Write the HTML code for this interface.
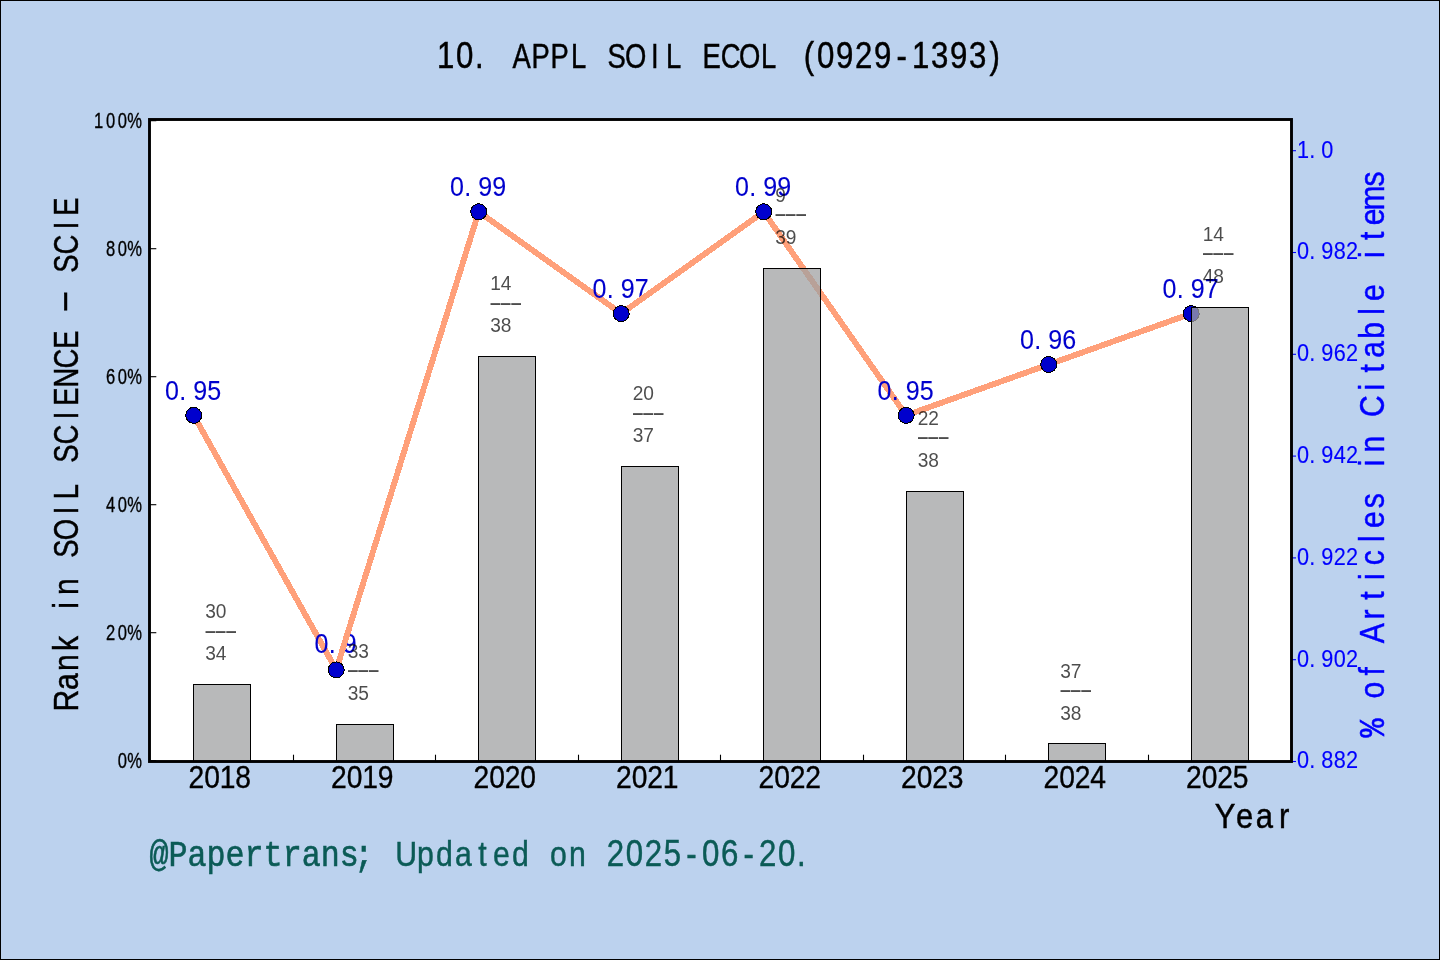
<!DOCTYPE html>
<html lang="en">
<head>
<meta charset="utf-8">
<title>10. APPL SOIL ECOL (0929-1393)</title>
<style>
html,body{margin:0;padding:0;background:#BCD2EE;}
body{width:1440px;height:960px;overflow:hidden;font-family:'Liberation Sans', sans-serif;}
svg{display:block;}
</style>
</head>
<body>
<svg width="1440" height="960" viewBox="0 0 1440 960">
<rect x="0" y="0" width="1440" height="960" fill="#BCD2EE"/>
<rect x="0.5" y="0.5" width="1439" height="959" fill="none" stroke="#000" stroke-width="1"/>
<rect x="149.5" y="119.5" width="1142.0" height="642.0" fill="#fff"/>
<text transform="translate(193.10,400.08) translate(-28.30,0.00) scale(0.8850,1)" x="7.99 20.31 39.97 55.96" text-anchor="middle" font-family="'Liberation Sans', sans-serif" font-size="28.30" fill="#0000CD" stroke="#0000CD" stroke-width="0.11">0.95</text>
<line x1="193.70" y1="415.38" x2="336.20" y2="669.88" stroke="#FFA07A" stroke-width="5.9" shape-rendering="crispEdges"/>
<text transform="translate(335.60,653.38) translate(-21.23,0.00) scale(0.8850,1)" x="7.99 20.31 39.97" text-anchor="middle" font-family="'Liberation Sans', sans-serif" font-size="28.30" fill="#0000CD" stroke="#0000CD" stroke-width="0.11">0.9</text>
<line x1="336.20" y1="669.88" x2="478.70" y2="211.78" stroke="#FFA07A" stroke-width="5.9" shape-rendering="crispEdges"/>
<text transform="translate(478.10,196.48) translate(-28.30,0.00) scale(0.8850,1)" x="7.99 20.31 39.97 55.96" text-anchor="middle" font-family="'Liberation Sans', sans-serif" font-size="28.30" fill="#0000CD" stroke="#0000CD" stroke-width="0.11">0.99</text>
<line x1="478.70" y1="211.78" x2="621.20" y2="313.58" stroke="#FFA07A" stroke-width="5.9" shape-rendering="crispEdges"/>
<text transform="translate(620.60,298.28) translate(-28.30,0.00) scale(0.8850,1)" x="7.99 20.31 39.97 55.96" text-anchor="middle" font-family="'Liberation Sans', sans-serif" font-size="28.30" fill="#0000CD" stroke="#0000CD" stroke-width="0.11">0.97</text>
<line x1="621.20" y1="313.58" x2="763.70" y2="211.78" stroke="#FFA07A" stroke-width="5.9" shape-rendering="crispEdges"/>
<text transform="translate(763.10,196.48) translate(-28.30,0.00) scale(0.8850,1)" x="7.99 20.31 39.97 55.96" text-anchor="middle" font-family="'Liberation Sans', sans-serif" font-size="28.30" fill="#0000CD" stroke="#0000CD" stroke-width="0.11">0.99</text>
<line x1="763.70" y1="211.78" x2="906.20" y2="415.38" stroke="#FFA07A" stroke-width="5.9" shape-rendering="crispEdges"/>
<text transform="translate(905.60,400.08) translate(-28.30,0.00) scale(0.8850,1)" x="7.99 20.31 39.97 55.96" text-anchor="middle" font-family="'Liberation Sans', sans-serif" font-size="28.30" fill="#0000CD" stroke="#0000CD" stroke-width="0.11">0.95</text>
<line x1="906.20" y1="415.38" x2="1048.70" y2="364.48" stroke="#FFA07A" stroke-width="5.9" shape-rendering="crispEdges"/>
<text transform="translate(1048.10,349.18) translate(-28.30,0.00) scale(0.8850,1)" x="7.99 20.31 39.97 55.96" text-anchor="middle" font-family="'Liberation Sans', sans-serif" font-size="28.30" fill="#0000CD" stroke="#0000CD" stroke-width="0.11">0.96</text>
<line x1="1048.70" y1="364.48" x2="1191.20" y2="313.58" stroke="#FFA07A" stroke-width="5.9" shape-rendering="crispEdges"/>
<text transform="translate(1190.60,298.28) translate(-28.30,0.00) scale(0.8850,1)" x="7.99 20.31 39.97 55.96" text-anchor="middle" font-family="'Liberation Sans', sans-serif" font-size="28.30" fill="#0000CD" stroke="#0000CD" stroke-width="0.11">0.97</text>
<circle cx="193.70" cy="415.38" r="8.0" fill="#0000CD" stroke="#000" stroke-width="1" shape-rendering="crispEdges"/>
<circle cx="336.20" cy="669.88" r="8.0" fill="#0000CD" stroke="#000" stroke-width="1" shape-rendering="crispEdges"/>
<circle cx="478.70" cy="211.78" r="8.0" fill="#0000CD" stroke="#000" stroke-width="1" shape-rendering="crispEdges"/>
<circle cx="621.20" cy="313.58" r="8.0" fill="#0000CD" stroke="#000" stroke-width="1" shape-rendering="crispEdges"/>
<circle cx="763.70" cy="211.78" r="8.0" fill="#0000CD" stroke="#000" stroke-width="1" shape-rendering="crispEdges"/>
<circle cx="906.20" cy="415.38" r="8.0" fill="#0000CD" stroke="#000" stroke-width="1" shape-rendering="crispEdges"/>
<circle cx="1048.70" cy="364.48" r="8.0" fill="#0000CD" stroke="#000" stroke-width="1" shape-rendering="crispEdges"/>
<circle cx="1191.20" cy="313.58" r="8.0" fill="#0000CD" stroke="#000" stroke-width="1" shape-rendering="crispEdges"/>
<rect x="193.50" y="684.50" width="57" height="77.00" fill="#A0A1A3" fill-opacity="0.75" stroke="#000" stroke-width="1"/>
<rect x="336.50" y="724.50" width="57" height="37.00" fill="#A0A1A3" fill-opacity="0.75" stroke="#000" stroke-width="1"/>
<rect x="478.50" y="356.50" width="57" height="405.00" fill="#A0A1A3" fill-opacity="0.75" stroke="#000" stroke-width="1"/>
<rect x="621.50" y="466.50" width="57" height="295.00" fill="#A0A1A3" fill-opacity="0.75" stroke="#000" stroke-width="1"/>
<rect x="763.50" y="268.50" width="57" height="493.00" fill="#A0A1A3" fill-opacity="0.75" stroke="#000" stroke-width="1"/>
<rect x="906.50" y="491.50" width="57" height="270.00" fill="#A0A1A3" fill-opacity="0.75" stroke="#000" stroke-width="1"/>
<rect x="1048.50" y="743.50" width="57" height="18.00" fill="#A0A1A3" fill-opacity="0.75" stroke="#000" stroke-width="1"/>
<rect x="1191.50" y="307.50" width="57" height="454.00" fill="#A0A1A3" fill-opacity="0.75" stroke="#000" stroke-width="1"/>
<g fill="#000" fill-opacity="0.7">
<text transform="translate(205.40,618.30) translate(0.00,0.00) scale(0.9300,1)" x="5.59 16.77" text-anchor="middle" font-family="'Liberation Sans', sans-serif" font-size="20.59" fill="inherit">30</text>
<text transform="translate(205.10,637.65) scale(2.02,1.25)" x="2.57 7.72 12.87" text-anchor="middle" font-family="'Liberation Sans', sans-serif" font-size="19.76">---</text>
<text transform="translate(205.40,660.40) translate(0.00,0.00) scale(0.9300,1)" x="5.59 16.77" text-anchor="middle" font-family="'Liberation Sans', sans-serif" font-size="20.59" fill="inherit">34</text>
</g>
<g fill="#000" fill-opacity="0.7">
<text transform="translate(347.90,657.83) translate(0.00,0.00) scale(0.9300,1)" x="5.59 16.77" text-anchor="middle" font-family="'Liberation Sans', sans-serif" font-size="20.59" fill="inherit">33</text>
<text transform="translate(347.60,677.18) scale(2.02,1.25)" x="2.57 7.72 12.87" text-anchor="middle" font-family="'Liberation Sans', sans-serif" font-size="19.76">---</text>
<text transform="translate(347.90,699.93) translate(0.00,0.00) scale(0.9300,1)" x="5.59 16.77" text-anchor="middle" font-family="'Liberation Sans', sans-serif" font-size="20.59" fill="inherit">35</text>
</g>
<g fill="#000" fill-opacity="0.7">
<text transform="translate(490.40,290.19) translate(0.00,0.00) scale(0.9300,1)" x="5.59 16.77" text-anchor="middle" font-family="'Liberation Sans', sans-serif" font-size="20.59" fill="inherit">14</text>
<text transform="translate(490.10,309.54) scale(2.02,1.25)" x="2.57 7.72 12.87" text-anchor="middle" font-family="'Liberation Sans', sans-serif" font-size="19.76">---</text>
<text transform="translate(490.40,332.29) translate(0.00,0.00) scale(0.9300,1)" x="5.59 16.77" text-anchor="middle" font-family="'Liberation Sans', sans-serif" font-size="20.59" fill="inherit">38</text>
</g>
<g fill="#000" fill-opacity="0.7">
<text transform="translate(632.90,400.35) translate(0.00,0.00) scale(0.9300,1)" x="5.59 16.77" text-anchor="middle" font-family="'Liberation Sans', sans-serif" font-size="20.59" fill="inherit">20</text>
<text transform="translate(632.60,419.70) scale(2.02,1.25)" x="2.57 7.72 12.87" text-anchor="middle" font-family="'Liberation Sans', sans-serif" font-size="19.76">---</text>
<text transform="translate(632.90,442.45) translate(0.00,0.00) scale(0.9300,1)" x="5.59 16.77" text-anchor="middle" font-family="'Liberation Sans', sans-serif" font-size="20.59" fill="inherit">37</text>
</g>
<g fill="#000" fill-opacity="0.7">
<text transform="translate(775.40,202.09) translate(0.00,0.00) scale(0.9300,1)" x="5.59" text-anchor="middle" font-family="'Liberation Sans', sans-serif" font-size="20.59" fill="inherit">9</text>
<text transform="translate(775.10,221.44) scale(2.02,1.25)" x="2.57 7.72 12.87" text-anchor="middle" font-family="'Liberation Sans', sans-serif" font-size="19.76">---</text>
<text transform="translate(775.40,244.19) translate(0.00,0.00) scale(0.9300,1)" x="5.59 16.77" text-anchor="middle" font-family="'Liberation Sans', sans-serif" font-size="20.59" fill="inherit">39</text>
</g>
<g fill="#000" fill-opacity="0.7">
<text transform="translate(917.90,424.93) translate(0.00,0.00) scale(0.9300,1)" x="5.59 16.77" text-anchor="middle" font-family="'Liberation Sans', sans-serif" font-size="20.59" fill="inherit">22</text>
<text transform="translate(917.60,444.28) scale(2.02,1.25)" x="2.57 7.72 12.87" text-anchor="middle" font-family="'Liberation Sans', sans-serif" font-size="19.76">---</text>
<text transform="translate(917.90,467.03) translate(0.00,0.00) scale(0.9300,1)" x="5.59 16.77" text-anchor="middle" font-family="'Liberation Sans', sans-serif" font-size="20.59" fill="inherit">38</text>
</g>
<g fill="#000" fill-opacity="0.7">
<text transform="translate(1060.40,677.56) translate(0.00,0.00) scale(0.9300,1)" x="5.59 16.77" text-anchor="middle" font-family="'Liberation Sans', sans-serif" font-size="20.59" fill="inherit">37</text>
<text transform="translate(1060.10,696.91) scale(2.02,1.25)" x="2.57 7.72 12.87" text-anchor="middle" font-family="'Liberation Sans', sans-serif" font-size="19.76">---</text>
<text transform="translate(1060.40,719.66) translate(0.00,0.00) scale(0.9300,1)" x="5.59 16.77" text-anchor="middle" font-family="'Liberation Sans', sans-serif" font-size="20.59" fill="inherit">38</text>
</g>
<g fill="#000" fill-opacity="0.7">
<text transform="translate(1202.90,241.07) translate(0.00,0.00) scale(0.9300,1)" x="5.59 16.77" text-anchor="middle" font-family="'Liberation Sans', sans-serif" font-size="20.59" fill="inherit">14</text>
<text transform="translate(1202.60,260.42) scale(2.02,1.25)" x="2.57 7.72 12.87" text-anchor="middle" font-family="'Liberation Sans', sans-serif" font-size="19.76">---</text>
<text transform="translate(1202.90,283.17) translate(0.00,0.00) scale(0.9300,1)" x="5.59 16.77" text-anchor="middle" font-family="'Liberation Sans', sans-serif" font-size="20.59" fill="inherit">48</text>
</g>
<line x1="293.50" y1="761.5" x2="293.50" y2="754.7" stroke="#000" stroke-width="1.1"/>
<line x1="435.50" y1="761.5" x2="435.50" y2="754.7" stroke="#000" stroke-width="1.1"/>
<line x1="578.50" y1="761.5" x2="578.50" y2="754.7" stroke="#000" stroke-width="1.1"/>
<line x1="720.50" y1="761.5" x2="720.50" y2="754.7" stroke="#000" stroke-width="1.1"/>
<line x1="863.50" y1="761.5" x2="863.50" y2="754.7" stroke="#000" stroke-width="1.1"/>
<line x1="1005.50" y1="761.5" x2="1005.50" y2="754.7" stroke="#000" stroke-width="1.1"/>
<line x1="1148.50" y1="761.5" x2="1148.50" y2="754.7" stroke="#000" stroke-width="1.1"/>
<line x1="149.5" y1="760.70" x2="156.3" y2="760.70" stroke="#000" stroke-width="1.1"/>
<line x1="149.5" y1="632.70" x2="156.3" y2="632.70" stroke="#000" stroke-width="1.1"/>
<line x1="149.5" y1="504.70" x2="156.3" y2="504.70" stroke="#000" stroke-width="1.1"/>
<line x1="149.5" y1="376.70" x2="156.3" y2="376.70" stroke="#000" stroke-width="1.1"/>
<line x1="149.5" y1="248.70" x2="156.3" y2="248.70" stroke="#000" stroke-width="1.1"/>
<line x1="149.5" y1="120.70" x2="156.3" y2="120.70" stroke="#000" stroke-width="1.1"/>
<line x1="1291.5" y1="761.50" x2="1296.0" y2="761.50" stroke="#0000FF" stroke-width="1.1"/>
<line x1="1291.5" y1="659.70" x2="1296.0" y2="659.70" stroke="#0000FF" stroke-width="1.1"/>
<line x1="1291.5" y1="557.90" x2="1296.0" y2="557.90" stroke="#0000FF" stroke-width="1.1"/>
<line x1="1291.5" y1="456.10" x2="1296.0" y2="456.10" stroke="#0000FF" stroke-width="1.1"/>
<line x1="1291.5" y1="354.30" x2="1296.0" y2="354.30" stroke="#0000FF" stroke-width="1.1"/>
<line x1="1291.5" y1="252.50" x2="1296.0" y2="252.50" stroke="#0000FF" stroke-width="1.1"/>
<line x1="1291.5" y1="150.70" x2="1296.0" y2="150.70" stroke="#0000FF" stroke-width="1.1"/>
<rect x="149.5" y="119.5" width="1142.0" height="642.0" fill="none" stroke="#000" stroke-width="2.9"/>
<text transform="translate(0,768.00) scale(0.74,1)" x="165.27 181.76" text-anchor="middle" font-family="'Liberation Sans', sans-serif" font-size="22.4" stroke="#000" stroke-width="0.35">0%</text>
<text transform="translate(0,640.00) scale(0.74,1)" x="149.32 165.27 181.76" text-anchor="middle" font-family="'Liberation Sans', sans-serif" font-size="22.4" stroke="#000" stroke-width="0.35">20%</text>
<text transform="translate(0,512.00) scale(0.74,1)" x="149.32 165.27 181.76" text-anchor="middle" font-family="'Liberation Sans', sans-serif" font-size="22.4" stroke="#000" stroke-width="0.35">40%</text>
<text transform="translate(0,384.00) scale(0.74,1)" x="149.32 165.27 181.76" text-anchor="middle" font-family="'Liberation Sans', sans-serif" font-size="22.4" stroke="#000" stroke-width="0.35">60%</text>
<text transform="translate(0,256.00) scale(0.74,1)" x="149.32 165.27 181.76" text-anchor="middle" font-family="'Liberation Sans', sans-serif" font-size="22.4" stroke="#000" stroke-width="0.35">80%</text>
<text transform="translate(0,128.00) scale(0.74,1)" x="133.38 149.32 165.27 181.76" text-anchor="middle" font-family="'Liberation Sans', sans-serif" font-size="22.4" stroke="#000" stroke-width="0.35">100%</text>
<text transform="translate(1296.80,768.40) translate(0.00,0.00) scale(0.8850,1)" x="6.92 17.58 34.60 48.45 62.29" text-anchor="middle" font-family="'Liberation Sans', sans-serif" font-size="24.50" fill="#0000FF" stroke="#0000FF" stroke-width="0.15">0.882</text>
<text transform="translate(1296.80,666.60) translate(0.00,0.00) scale(0.8850,1)" x="6.92 17.58 34.60 48.45 62.29" text-anchor="middle" font-family="'Liberation Sans', sans-serif" font-size="24.50" fill="#0000FF" stroke="#0000FF" stroke-width="0.15">0.902</text>
<text transform="translate(1296.80,564.80) translate(0.00,0.00) scale(0.8850,1)" x="6.92 17.58 34.60 48.45 62.29" text-anchor="middle" font-family="'Liberation Sans', sans-serif" font-size="24.50" fill="#0000FF" stroke="#0000FF" stroke-width="0.15">0.922</text>
<text transform="translate(1296.80,463.00) translate(0.00,0.00) scale(0.8850,1)" x="6.92 17.58 34.60 48.45 62.29" text-anchor="middle" font-family="'Liberation Sans', sans-serif" font-size="24.50" fill="#0000FF" stroke="#0000FF" stroke-width="0.15">0.942</text>
<text transform="translate(1296.80,361.20) translate(0.00,0.00) scale(0.8850,1)" x="6.92 17.58 34.60 48.45 62.29" text-anchor="middle" font-family="'Liberation Sans', sans-serif" font-size="24.50" fill="#0000FF" stroke="#0000FF" stroke-width="0.15">0.962</text>
<text transform="translate(1296.80,259.40) translate(0.00,0.00) scale(0.8850,1)" x="6.92 17.58 34.60 48.45 62.29" text-anchor="middle" font-family="'Liberation Sans', sans-serif" font-size="24.50" fill="#0000FF" stroke="#0000FF" stroke-width="0.15">0.982</text>
<text transform="translate(1296.80,157.60) translate(0.00,0.00) scale(0.8850,1)" x="6.92 17.58 34.60" text-anchor="middle" font-family="'Liberation Sans', sans-serif" font-size="24.50" fill="#0000FF" stroke="#0000FF" stroke-width="0.15">1.0</text>
<text transform="translate(219.80,787.70) translate(-31.20,0.00) scale(0.9200,1)" x="8.48 25.43 42.39 59.35" text-anchor="middle" font-family="'Liberation Sans', sans-serif" font-size="30.73" fill="#000" stroke="#000" stroke-width="0.37">2018</text>
<text transform="translate(362.30,787.70) translate(-31.20,0.00) scale(0.9200,1)" x="8.48 25.43 42.39 59.35" text-anchor="middle" font-family="'Liberation Sans', sans-serif" font-size="30.73" fill="#000" stroke="#000" stroke-width="0.37">2019</text>
<text transform="translate(504.80,787.70) translate(-31.20,0.00) scale(0.9200,1)" x="8.48 25.43 42.39 59.35" text-anchor="middle" font-family="'Liberation Sans', sans-serif" font-size="30.73" fill="#000" stroke="#000" stroke-width="0.37">2020</text>
<text transform="translate(647.30,787.70) translate(-31.20,0.00) scale(0.9200,1)" x="8.48 25.43 42.39 59.35" text-anchor="middle" font-family="'Liberation Sans', sans-serif" font-size="30.73" fill="#000" stroke="#000" stroke-width="0.37">2021</text>
<text transform="translate(789.80,787.70) translate(-31.20,0.00) scale(0.9200,1)" x="8.48 25.43 42.39 59.35" text-anchor="middle" font-family="'Liberation Sans', sans-serif" font-size="30.73" fill="#000" stroke="#000" stroke-width="0.37">2022</text>
<text transform="translate(932.30,787.70) translate(-31.20,0.00) scale(0.9200,1)" x="8.48 25.43 42.39 59.35" text-anchor="middle" font-family="'Liberation Sans', sans-serif" font-size="30.73" fill="#000" stroke="#000" stroke-width="0.37">2023</text>
<text transform="translate(1074.80,787.70) translate(-31.20,0.00) scale(0.9200,1)" x="8.48 25.43 42.39 59.35" text-anchor="middle" font-family="'Liberation Sans', sans-serif" font-size="30.73" fill="#000" stroke="#000" stroke-width="0.37">2024</text>
<text transform="translate(1217.30,787.70) translate(-31.20,0.00) scale(0.9200,1)" x="8.48 25.43 42.39 59.35" text-anchor="middle" font-family="'Liberation Sans', sans-serif" font-size="30.73" fill="#000" stroke="#000" stroke-width="0.37">2025</text>
<text transform="translate(436.20,67.90) translate(0.00,0.00) scale(0.8590,1)" x="11.06 33.18 50.21" text-anchor="middle" font-family="'Liberation Sans', sans-serif" font-size="36.29" fill="#000" stroke="#000" stroke-width="0.46">10.</text>
<text transform="translate(436.20,67.90) translate(0.00,0.00) scale(0.7800,1)" x="109.62 133.97 158.33 182.69 207.05 231.41 255.77 280.13 304.49 328.85 353.21 377.56 401.92 426.28" text-anchor="middle" font-family="'Liberation Sans', sans-serif" font-size="35.15" fill="#000" stroke="#000" stroke-width="0.46">APPL SOIL ECOL</text>
<text transform="translate(436.20,67.90) translate(0.00,0.00) scale(0.8590,1)" x="433.97 453.43 475.55 497.67 519.79 541.91 564.03 586.15 608.27 630.38 650.29" text-anchor="middle" font-family="'Liberation Sans', sans-serif" font-size="36.29" fill="#000" stroke="#000" stroke-width="0.46">(0929-1393)</text>
<text transform="translate(78.20,453.50) rotate(-90) translate(-256.50,0.00) scale(0.8590,1)" x="11.06 33.18 55.30 77.42 99.53 121.65 143.77" text-anchor="middle" font-family="'Liberation Sans', sans-serif" font-size="35.15" fill="#000" stroke="#000" stroke-width="0.46">Rank in</text>
<text transform="translate(78.20,453.50) rotate(-90) translate(-256.50,0.00) scale(0.7800,1)" x="207.05 231.41 255.77 280.13 304.49 328.85 353.21 377.56 401.92 426.28 450.64 475.00" text-anchor="middle" font-family="'Liberation Sans', sans-serif" font-size="35.15" fill="#000" stroke="#000" stroke-width="0.46">SOIL SCIENCE</text>
<text transform="translate(78.20,453.50) rotate(-90) translate(-256.50,-3.61) scale(2.0000,1)" x="204.25" text-anchor="middle" font-family="'Liberation Sans', sans-serif" font-size="35.15" fill="#000" stroke="#000" stroke-width="0.46">-</text>
<text transform="translate(78.20,453.50) rotate(-90) translate(-256.50,0.00) scale(0.7800,1)" x="572.44 596.79 621.15 645.51" text-anchor="middle" font-family="'Liberation Sans', sans-serif" font-size="35.15" fill="#000" stroke="#000" stroke-width="0.46">SCIE</text>
<text transform="translate(1384.20,453.50) rotate(-90) translate(-283.95,0.00) scale(0.8590,1)" x="11.02" text-anchor="middle" font-family="'Liberation Mono', monospace" font-size="36.72" fill="#0000FF" stroke="#0000FF" stroke-width="0.61">%</text>
<text transform="translate(1384.20,453.50) rotate(-90) translate(-283.95,0.00) scale(0.8590,1)" x="55.09 77.13 99.17 121.20 143.24 165.28 187.32 209.35 231.39 253.43 275.47 297.50 319.54 341.58 363.61 385.65 407.69 429.73 451.76 473.80 495.84 517.88 539.91 561.95 583.99 606.02 628.06 650.10" text-anchor="middle" font-family="'Liberation Sans', sans-serif" font-size="35.02" fill="#0000FF" stroke="#0000FF" stroke-width="0.45">of Articles in Citable items</text>
<text transform="translate(1294.00,828.30) translate(-78.80,0.00) scale(0.9000,1)" x="10.94 32.83 54.72 76.61" text-anchor="middle" font-family="'Liberation Sans', sans-serif" font-size="34.48" fill="#000" stroke="#000" stroke-width="0.47">Year</text>
<text transform="translate(149.50,865.70) translate(0.00,0.00) scale(0.8590,1)" x="11.07 33.21 55.36 77.50 99.64 121.78 143.92 166.07 188.21 210.35 232.49 249.54" text-anchor="middle" font-family="'Liberation Mono', monospace" font-size="36.90" fill="#0B5B56" stroke="#0B5B56" stroke-width="0.61">@Papertrans;</text>
<text transform="translate(149.50,865.70) translate(0.00,0.00) scale(0.8590,1)" x="298.92 321.06 343.20 365.34 387.49 409.63 431.77 453.91 476.05 498.20" text-anchor="middle" font-family="'Liberation Sans', sans-serif" font-size="35.19" fill="#0B5B56" stroke="#0B5B56" stroke-width="0.46">Updated on</text>
<text transform="translate(149.50,865.70) translate(0.00,0.00) scale(0.8590,1)" x="542.48 564.62 586.76 608.91 631.05 653.19 675.33 697.47 719.62 741.76 758.81" text-anchor="middle" font-family="'Liberation Sans', sans-serif" font-size="36.33" fill="#0B5B56" stroke="#0B5B56" stroke-width="0.46">2025-06-20.</text>
</svg>
</body>
</html>
